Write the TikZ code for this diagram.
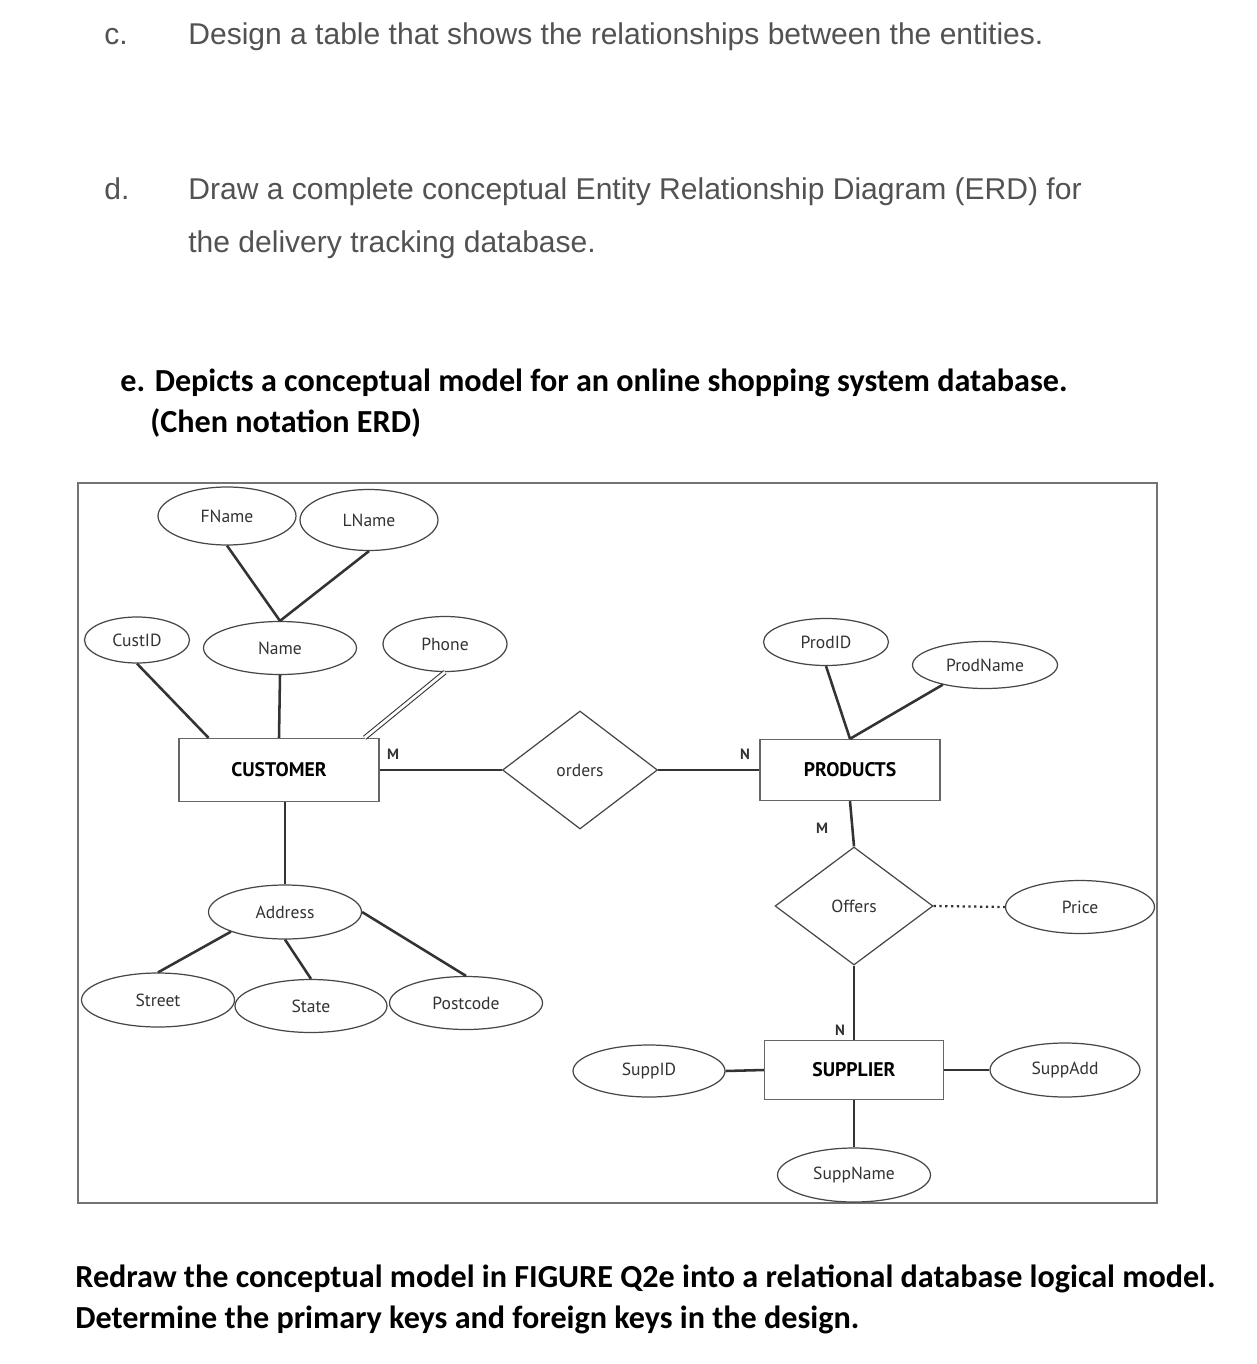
\documentclass[tikz,border=0pt]{standalone}
\usepackage{fontspec}
\setmainfont{Liberation Sans}
\newfontfamily\headfont{Carlito}
\newfontfamily\erdfont{PT Sans}
\usetikzlibrary{shapes.geometric,calc}

\begin{document}
\begin{tikzpicture}[x=0.02cm, y=-0.02cm,
  qtext/.style={anchor=base west, inner sep=0pt, text=black!68, font=\fontsize{17.1pt}{20pt}\selectfont},
  htext/.style={anchor=base west, inner sep=0pt, font=\headfont\bfseries\fontsize{18.3pt}{21pt}\selectfont},
  attr/.style={draw=black!72, ellipse, line width=0.7pt, inner sep=0pt, font=\erdfont\fontsize{10pt}{12pt}\selectfont, text=black!80},
  ent/.style={draw=black!60, rectangle, line width=0.8pt, inner sep=0pt, font=\erdfont\bfseries\fontsize{11.2pt}{13pt}\selectfont},
  rel/.style={draw=black!72, diamond, line width=0.7pt, inner sep=0pt, font=\erdfont\fontsize{10pt}{12pt}\selectfont, text=black!80},
  lnk/.style={draw=black!80, line width=1.45pt},
  card/.style={font=\erdfont\bfseries\fontsize{8.5pt}{9pt}\selectfont, inner sep=0pt, text=black!80}]
\useasboundingbox (0,0) rectangle (1256,1364);
\fill[white] (0,0) rectangle (1256,1364);

% questions
\node[qtext] (qc) at (104,45) {c.};
\node[qtext] (qctext) at (188,45) {Design a table that shows the relationships between the entities.};
\node[qtext] (qd) at (104,200) {d.};
\node[qtext] (qdtext) at (188,200) {Draw a complete conceptual Entity Relationship Diagram (ERD) for};
\node[qtext] (qdtext2) at (188,253) {the delivery tracking database.};
\node[htext] (qe) at (120,392) {e. Depicts a conceptual model for an online shopping system database.};
\node[htext] (qe2) at (150,433) {(Chen notation ERD)};

% frame of the figure
\draw[black!55, line width=1pt] (78,483) rectangle (1157,1203);

% customer side
\node[attr, minimum width=2.76cm, minimum height=1.16cm] (fname) at (227,516) {FName};
\node[attr, minimum width=2.76cm, minimum height=1.22cm] (lname) at (369,520) {LName};
\node[attr, minimum width=2.1cm, minimum height=0.92cm] (custid) at (137,640) {CustID};
\node[attr, minimum width=3.06cm, minimum height=1.06cm] (name) at (280,648) {Name};
\node[attr, minimum width=2.48cm, minimum height=1.1cm] (phone) at (445,644) {Phone};
\node[ent, minimum width=4cm, minimum height=1.26cm] (customer) at (279,770) {CUSTOMER};
\node[attr, minimum width=3.06cm, minimum height=1.08cm] (address) at (285,912) {Address};
\node[attr, minimum width=3.06cm, minimum height=1.08cm] (street) at (158,1000) {Street};
\node[attr, minimum width=3.04cm, minimum height=1.06cm] (state) at (311,1006) {State};
\node[attr, minimum width=3.06cm, minimum height=1.06cm] (postcode) at (466,1003) {Postcode};

% relationship orders
\node[rel, minimum width=3.1cm, minimum height=2.36cm] (orders) at (580,770) {orders};

% products side
\node[attr, minimum width=2.5cm, minimum height=0.94cm] (prodid) at (826,642) {ProdID};
\node[attr, minimum width=2.9cm, minimum height=0.94cm] (prodname) at (985,665) {ProdName};
\node[ent, minimum width=3.6cm, minimum height=1.22cm] (products) at (850,770) {PRODUCTS};
\node[rel, minimum width=3.16cm, minimum height=2.36cm] (offers) at (854,906) {Offers};
\node[attr, minimum width=2.98cm, minimum height=1.06cm] (price) at (1080,907) {Price};

% supplier side
\node[ent, minimum width=3.58cm, minimum height=1.18cm] (supplier) at (854,1070) {SUPPLIER};
\node[attr, minimum width=3.04cm, minimum height=1.04cm] (suppid) at (649,1071) {SuppID};
\node[attr, minimum width=3cm, minimum height=1.08cm] (suppadd) at (1065,1070) {SuppAdd};
\node[attr, minimum width=3.06cm, minimum height=1.08cm] (suppname) at (854,1175) {SuppName};

% connectors
\draw[lnk] (fname.south) -- (name.north);
\draw[lnk] (lname.south) -- (name.north);
\draw[lnk] (custid.south) -- ($(customer.north west)!0.15!(customer.north east)$);
\draw[lnk] (name.south) -- (customer.north);
\draw[black!80, line width=0.6pt, double, double distance=1.6pt] (phone.south) -- ($(customer.north west)!0.925!(customer.north east)$);
\draw[lnk] (customer.east) -- (orders.west);
\draw[lnk] (orders.east) -- (products.west);
\draw[lnk] (address.north |- customer.south) -- (address.north);
\draw[lnk] (address.200) -- (street.north);
\draw[lnk] (address.south) -- (state.north);
\draw[lnk] (address.east) -- (postcode.north);
\draw[lnk] (prodid.south) -- (products.north);
\draw[lnk] (prodname.205) -- (products.north);
\draw[lnk] (products.south) -- (offers.north);
\draw[black!80, line width=1.3pt, dotted] (offers.east) -- (price.west);
\draw[lnk] (offers.south) -- (supplier.north);
\draw[lnk] (suppid.east) -- (supplier.west);
\draw[lnk] (supplier.east) -- (suppadd.west);
\draw[lnk] (supplier.south) -- (suppname.north);

% cardinalities
\node[card] (mcust) at (393,754) {M};
\node[card] (nprod) at (745,754) {N};
\node[card] (mprod) at (822,828) {M};
\node[card] (nsupp) at (840,1030) {N};

% task below the figure
\node[htext] (task) at (75,1287) {Redraw the conceptual model in FIGURE Q2e into a relational database logical model.};
\node[htext] (task2) at (75,1328) {Determine the primary keys and foreign keys in the design.};
\end{tikzpicture}
\end{document}
